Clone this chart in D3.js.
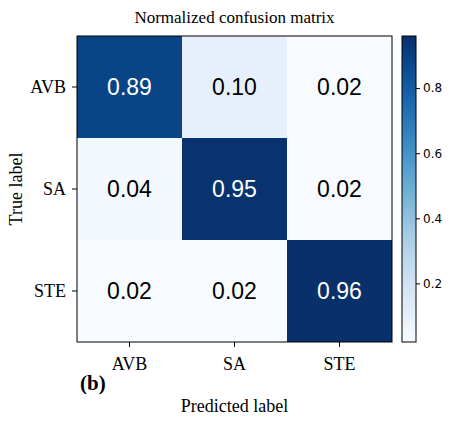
<!DOCTYPE html><html><head><script src="https://cdn.jsdelivr.net/npm/d3@7"></script>
<style>body{margin:0;background:#fff}</style></head><body><svg id="c" width="474" height="422"></svg>
<script>
const labels=["AVB","SA","STE"];
const values=[[0.89,0.10,0.02],[0.04,0.95,0.02],[0.02,0.02,0.96]];
const cbTicks=[0.2,0.4,0.6,0.8];
const vmin=0.02,vmax=0.96;
const svg=d3.select("#c");
const L=77,R=392,T=36,B=342;
const x=d3.scaleBand().domain(labels).range([L,R]);
const y=d3.scaleBand().domain(labels).range([T,B]);
const col=v=>d3.interpolateBlues((v-vmin)/(vmax-vmin));
const serif="'Liberation Serif','DejaVu Serif',serif";
values.forEach((row,i)=>row.forEach((v,j)=>{
 svg.append("rect").attr("x",x(labels[j])).attr("y",y(labels[i])).attr("width",x.bandwidth()).attr("height",y.bandwidth()).attr("fill",col(v));
 svg.append("text").attr("x",x(labels[j])+x.bandwidth()/2).attr("y",y(labels[i])+y.bandwidth()/2+8)
  .attr("text-anchor","middle").attr("font-family","'Liberation Sans',Arial,sans-serif").attr("font-size",23)
  .attr("fill",v>0.49?"#fff":"#000").text(v.toFixed(2));
}));
svg.append("rect").attr("x",L).attr("y",T).attr("width",R-L).attr("height",B-T).attr("fill","none").attr("stroke","#000").attr("stroke-width",1);
const xa=svg.append("g").attr("transform",`translate(0,${B})`).call(d3.axisBottom(x).tickSize(5).tickPadding(10));
const ya=svg.append("g").attr("transform",`translate(${L},0)`).call(d3.axisLeft(y).tickSize(5).tickPadding(6));
[xa,ya].forEach(a=>{a.select(".domain").remove();a.selectAll("text").attr("font-family",serif).attr("font-size",18).attr("fill","#000");});
svg.append("text").attr("x",(L+R)/2).attr("y",23).attr("text-anchor","middle").attr("font-family",serif).attr("font-size",17).text("Normalized confusion matrix");
svg.append("text").attr("x",(L+R)/2).attr("y",412).attr("text-anchor","middle").attr("font-family",serif).attr("font-size",18).text("Predicted label");
svg.append("text").attr("transform",`translate(22,${(T+B)/2}) rotate(-90)`).attr("text-anchor","middle").attr("font-family",serif).attr("font-size",18).text("True label");
svg.append("text").attr("x",80).attr("y",390).attr("font-family",serif).attr("font-weight","bold").attr("font-size",21).text("(b)");
const cx=402,cw=14;
const cy=d3.scaleLinear().domain([vmin,vmax]).range([B,T]);
const g=svg.append("defs").append("linearGradient").attr("id","g").attr("x1",0).attr("x2",0).attr("y1",1).attr("y2",0);
d3.range(0,1.01,0.1).forEach(t=>g.append("stop").attr("offset",t).attr("stop-color",d3.interpolateBlues(t)));
svg.append("rect").attr("x",cx).attr("y",T).attr("width",cw).attr("height",B-T).attr("fill","url(#g)").attr("stroke","#000");
const ca=svg.append("g").attr("transform",`translate(${cx+cw},0)`).call(d3.axisRight(cy).tickValues(cbTicks).tickFormat(d3.format(".1f")).tickSize(4));
ca.select(".domain").remove();
ca.selectAll("text").attr("font-family","'DejaVu Sans',sans-serif").attr("font-size",12).attr("fill","#000");
</script></body></html>
